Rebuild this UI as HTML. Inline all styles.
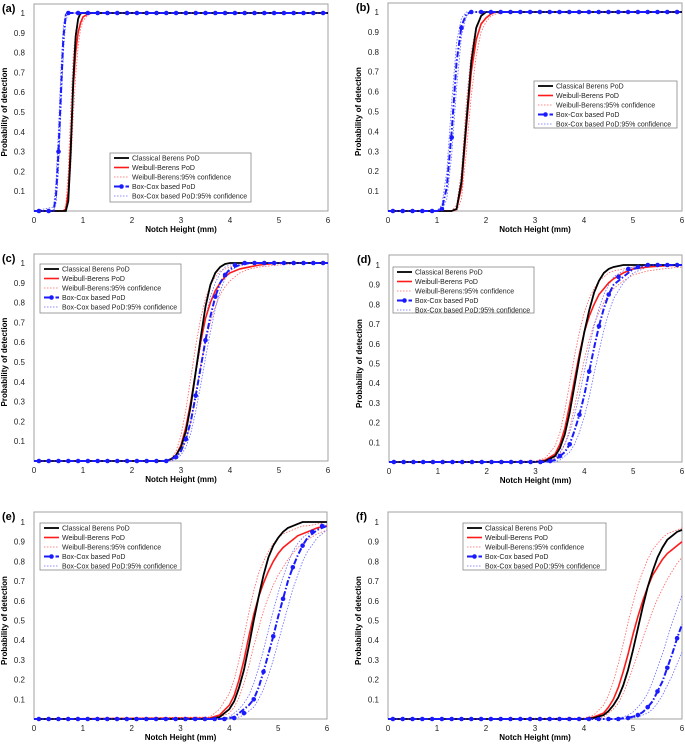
<!DOCTYPE html>
<html><head><meta charset="utf-8"><style>
html,body{margin:0;padding:0;background:#fff;}
svg{display:block;font-family:"Liberation Sans",sans-serif;}
</style></head><body>
<svg id="fig" width="685" height="745" viewBox="0 0 685 745" xmlns="http://www.w3.org/2000/svg"></svg>
<script>
// ---- data ----
const markerX = [0.1,0.3,0.5,0.7,0.9,1.1,1.3,1.5,1.7,1.9,2.1,2.3,2.5,2.7,2.9,3.1,3.3,3.5,3.7,3.9,4.1,4.3,4.5,4.7,4.9,5.1,5.3,5.5,5.7,5.9];
const xTicks = [0,1,2,3,4,5,6];
const yTicks = [0.1,0.2,0.3,0.4,0.5,0.6,0.7,0.8,0.9,1];
const yTickLabels = ["0.1","0.2","0.3","0.4","0.5","0.6","0.7","0.8","0.9","1"];
const legendLabels = ["Classical Berens PoD","Weibull-Berens PoD","Weibull-Berens:95% confidence","Box-Cox based PoD","Box-Cox based PoD:95% confidence"];

const aX = [0,0.4,0.45,0.5,0.55,0.6,0.65,0.7,0.75,0.8,0.85,0.9,0.95,1.0,1.1,1.2,1.3,6];
const aBlack = [0,0,0,0,0,0,0,0.05,0.3,0.65,0.88,0.97,1,1,1,1,1,1];
const aRed = [0,0,0,0,0,0,0.01,0.1,0.35,0.62,0.8,0.9,0.95,0.98,0.995,1,1,1];
const aRedLo = [0,0,0,0,0,0,0,0.05,0.22,0.47,0.68,0.83,0.92,0.96,0.99,1,1,1];
const aRedHi = [0,0,0,0,0,0,0.03,0.2,0.52,0.78,0.91,0.97,0.99,1,1,1,1,1];
const aBlue = [0,0,0.08,0.3,0.6,0.88,0.99,1,1,1,1,1,1,1,1,1,1,1];
const aBlueLo = [0,0,0.04,0.2,0.5,0.8,0.96,1,1,1,1,1,1,1,1,1,1,1];
const aBlueHi = [0,0.02,0.15,0.42,0.72,0.94,1,1,1,1,1,1,1,1,1,1,1,1];
const aMarkers = [0,0,0.3,1,1,1,1,1,1,1,1,1,1,1,1,1,1,1,1,1,1,1,1,1,1,1,1,1,1,1];

const bX = [0,1,1.1,1.2,1.3,1.4,1.5,1.6,1.7,1.8,1.9,2.0,2.1,2.2,2.4,2.6,6];
const bBlack = [0,0,0,0,0,0.01,0.15,0.45,0.75,0.92,0.98,1,1,1,1,1,1];
const bRed = [0,0,0,0,0,0.01,0.12,0.42,0.7,0.86,0.94,0.97,0.99,1,1,1,1];
const bRedLo = [0,0,0,0,0,0,0.06,0.3,0.58,0.78,0.9,0.95,0.98,0.99,1,1,1];
const bRedHi = [0,0,0,0,0,0.03,0.2,0.55,0.8,0.93,0.98,1,1,1,1,1,1];
const bBlue = [0,0,0.01,0.12,0.4,0.75,0.93,0.99,1,1,1,1,1,1,1,1,1];
const bBlueLo = [0,0,0,0.06,0.28,0.62,0.88,0.98,1,1,1,1,1,1,1,1,1];
const bBlueHi = [0,0,0.03,0.2,0.55,0.85,0.97,1,1,1,1,1,1,1,1,1,1];
const bMarkers = [0,0,0,0,0,0.01,0.37,0.92,1,1,1,1,1,1,1,1,1,1,1,1,1,1,1,1,1,1,1,1,1,1];

const cX = [0,2.7,2.8,2.9,3.0,3.1,3.2,3.3,3.4,3.5,3.6,3.7,3.8,3.9,4.0,4.2,4.4,4.6,5,5.5,6];
const cBlack = [0,0,0.01,0.03,0.07,0.15,0.28,0.45,0.62,0.78,0.89,0.95,0.98,0.995,1,1,1,1,1,1,1];
const cRed = [0,0,0.01,0.03,0.08,0.17,0.3,0.45,0.6,0.72,0.8,0.86,0.9,0.93,0.95,0.97,0.98,0.99,1,1,1];
const cRedHi = [0,0,0.01,0.05,0.13,0.26,0.42,0.58,0.72,0.82,0.89,0.93,0.96,0.97,0.98,0.99,1,1,1,1,1];
const cRedLo = [0,0,0,0.02,0.05,0.1,0.2,0.33,0.48,0.6,0.7,0.78,0.84,0.88,0.91,0.95,0.97,0.98,0.99,1,1];
const cBlue = [0,0,0.01,0.02,0.05,0.11,0.2,0.33,0.47,0.61,0.73,0.83,0.9,0.94,0.97,0.99,1,1,1,1,1];
const cBlueLo = [0,0,0,0.01,0.03,0.07,0.14,0.25,0.38,0.52,0.65,0.77,0.86,0.92,0.96,0.99,1,1,1,1,1];
const cBlueHi = [0,0,0.01,0.03,0.08,0.16,0.28,0.43,0.58,0.72,0.83,0.9,0.95,0.98,0.99,1,1,1,1,1,1];
const cMarkers = [0,0,0,0,0,0,0,0,0,0,0,0,0,0,0.02,0.11,0.33,0.61,0.83,0.94,0.99,1,1,1,1,1,1,1,1,1];

const dX = [0,3.0,3.2,3.4,3.5,3.6,3.7,3.8,3.9,4.0,4.1,4.2,4.3,4.4,4.5,4.6,4.8,5.0,5.3,5.6,6];
const dBlack = [0,0,0.005,0.03,0.07,0.14,0.25,0.39,0.53,0.66,0.77,0.86,0.92,0.96,0.98,0.99,1,1,1,1,1];
const dRed = [0,0,0.01,0.04,0.09,0.17,0.29,0.42,0.55,0.66,0.74,0.8,0.85,0.88,0.91,0.93,0.96,0.98,0.99,0.995,1];
const dRedHi = [0,0.005,0.02,0.08,0.15,0.26,0.4,0.54,0.66,0.76,0.83,0.88,0.92,0.94,0.96,0.97,0.98,0.99,1,1,1];
const dRedLo = [0,0,0,0.02,0.04,0.09,0.17,0.28,0.4,0.52,0.62,0.7,0.76,0.81,0.85,0.88,0.92,0.95,0.97,0.98,0.99];
const dBlue = [0,0,0,0.01,0.03,0.05,0.09,0.16,0.24,0.34,0.46,0.58,0.69,0.78,0.85,0.9,0.94,0.98,1,1,1];
const dBlueHi = [0,0,0.01,0.02,0.05,0.09,0.15,0.24,0.34,0.46,0.58,0.69,0.78,0.85,0.9,0.94,0.97,0.99,1,1,1];
const dBlueLo = [0,0,0,0,0.01,0.03,0.05,0.09,0.15,0.23,0.33,0.45,0.56,0.67,0.76,0.83,0.91,0.96,0.99,1,1];
const dMarkers = [0,0,0,0,0,0,0,0,0,0,0,0,0,0,0,0,0.005,0.03,0.09,0.24,0.46,0.69,0.85,0.94,0.98,0.99,1,1,1,1];

const eX = [0,3.6,3.8,4.0,4.1,4.2,4.3,4.4,4.5,4.6,4.7,4.8,4.9,5.0,5.1,5.2,5.3,5.4,5.5,5.6,5.8,6];
const eBlack = [0,0,0.01,0.05,0.09,0.16,0.25,0.37,0.5,0.62,0.73,0.82,0.88,0.92,0.95,0.97,0.98,0.99,1,1,1,1];
const eRed = [0,0.005,0.02,0.07,0.12,0.2,0.3,0.42,0.53,0.62,0.69,0.75,0.8,0.84,0.87,0.89,0.91,0.93,0.94,0.95,0.97,0.98];
const eRedHi = [0,0.01,0.05,0.13,0.2,0.3,0.42,0.54,0.65,0.74,0.8,0.85,0.89,0.92,0.94,0.95,0.96,0.97,0.98,0.98,0.99,1];
const eRedLo = [0,0,0.01,0.03,0.06,0.11,0.18,0.27,0.37,0.46,0.55,0.62,0.68,0.73,0.77,0.81,0.84,0.87,0.89,0.91,0.94,0.96];
const eBlue = [0,0,0,0.005,0.01,0.03,0.05,0.07,0.1,0.16,0.24,0.33,0.42,0.52,0.61,0.7,0.77,0.83,0.88,0.92,0.96,0.98];
const eBlueHi = [0,0,0,0.01,0.03,0.05,0.08,0.12,0.18,0.26,0.35,0.45,0.55,0.64,0.72,0.79,0.85,0.89,0.92,0.94,0.97,0.99];
const eBlueLo = [0,0,0,0,0.005,0.01,0.02,0.04,0.06,0.1,0.15,0.22,0.3,0.39,0.48,0.57,0.66,0.73,0.8,0.85,0.92,0.96];
const eMarkers = [0,0,0,0,0,0,0,0,0,0,0,0,0,0,0,0,0,0,0,0,0.005,0.03,0.1,0.24,0.42,0.61,0.77,0.88,0.95,0.98];

const fX = [0,4.0,4.2,4.4,4.5,4.6,4.7,4.8,4.9,5.0,5.1,5.2,5.3,5.4,5.5,5.6,5.7,5.8,5.9,6];
const fBlack = [0,0,0.005,0.02,0.04,0.07,0.11,0.17,0.25,0.35,0.46,0.57,0.67,0.75,0.82,0.87,0.91,0.93,0.95,0.96];
const fRed = [0,0,0.01,0.03,0.06,0.1,0.16,0.24,0.33,0.43,0.52,0.6,0.67,0.73,0.77,0.81,0.84,0.86,0.88,0.9];
const fRedHi = [0,0.005,0.02,0.07,0.12,0.19,0.28,0.38,0.49,0.59,0.68,0.75,0.81,0.86,0.89,0.92,0.94,0.95,0.96,0.97];
const fRedLo = [0,0,0,0.01,0.03,0.05,0.08,0.13,0.19,0.26,0.33,0.41,0.48,0.55,0.61,0.66,0.71,0.75,0.79,0.82];
const fBlue = [0,0,0,0,0,0,0,0.003,0.006,0.012,0.02,0.035,0.06,0.09,0.14,0.19,0.26,0.33,0.41,0.48];
const fBlueHi = [0,0,0,0,0,0,0.005,0.01,0.02,0.035,0.06,0.09,0.13,0.19,0.26,0.33,0.41,0.49,0.56,0.63];
const fBlueLo = [0,0,0,0,0,0,0,0,0.003,0.006,0.01,0.02,0.03,0.05,0.08,0.12,0.17,0.22,0.28,0.34];
const fMarkers = [0,0,0,0,0,0,0,0,0,0,0,0,0,0,0,0,0,0,0,0,0,0,0,0,0.005,0.02,0.06,0.14,0.26,0.41];

// ---- layout ----
const panels = [
 {id:"a",L:34,R:328,Y0:211,Y1:13,T:4,x:aX,k:aBlack,r:aRed,rl:aRedLo,rh:aRedHi,b:aBlue,bl:aBlueLo,bh:aBlueHi,m:aMarkers,lg:[110,153,141,49]},
 {id:"b",L:388,R:682,Y0:211,Y1:12,T:3,x:bX,k:bBlack,r:bRed,rl:bRedLo,rh:bRedHi,b:bBlue,bl:bBlueLo,bh:bBlueHi,m:bMarkers,lg:[534,81,143,47]},
 {id:"c",L:34,R:328,Y0:461,Y1:263,T:254,x:cX,k:cBlack,r:cRed,rl:cRedLo,rh:cRedHi,b:cBlue,bl:cBlueLo,bh:cBlueHi,m:cMarkers,lg:[40,264,141,49]},
 {id:"d",L:389,R:682,Y0:462,Y1:265,T:255,x:dX,k:dBlack,r:dRed,rl:dRedLo,rh:dRedHi,b:dBlue,bl:dBlueLo,bh:dBlueHi,m:dMarkers,lg:[393,267,141,46]},
 {id:"e",L:34,R:327,Y0:719,Y1:522,T:512,x:eX,k:eBlack,r:eRed,rl:eRedLo,rh:eRedHi,b:eBlue,bl:eBlueLo,bh:eBlueHi,m:eMarkers,lg:[40,523,141,47]},
 {id:"f",L:388,R:682,Y0:719,Y1:522,T:512,x:fX,k:fBlack,r:fRed,rl:fRedLo,rh:fRedHi,b:fBlue,bl:fBlueLo,bh:fBlueHi,m:fMarkers,lg:[463,523,143,47]}
];
const NS="http://www.w3.org/2000/svg";
const svg=document.getElementById("fig");
function el(tag,attrs,parent){const e=document.createElementNS(NS,tag);for(const k in attrs)e.setAttribute(k,attrs[k]);(parent||svg).appendChild(e);return e;}
const RED="#ff1a1a", BLUE="#1a1aff";
const styles = {
 k:{stroke:"#000","stroke-width":1.8},
 r:{stroke:RED,"stroke-width":1.6},
 rl:{stroke:"#ff6060","stroke-width":0.8,"stroke-dasharray":"1.5,1.5"},
 rh:{stroke:"#ff6060","stroke-width":0.8,"stroke-dasharray":"1.5,1.5"},
 b:{stroke:BLUE,"stroke-width":2,"stroke-dasharray":"6,2,1.5,2"},
 bl:{stroke:"#6a6aff","stroke-width":0.8,"stroke-dasharray":"1.5,1.5"},
 bh:{stroke:"#6a6aff","stroke-width":0.8,"stroke-dasharray":"1.5,1.5"}
};
const seriesNames={k:"classical-berens-line",r:"weibull-berens-line",rl:"weibull-lower-bound",rh:"weibull-upper-bound",b:"boxcox-line",bl:"boxcox-lower-bound",bh:"boxcox-upper-bound"};

panels.forEach(p=>{
  const g=el("g",{});
  
  
  const sx=v=>p.L+(p.R-p.L)*v/6;
  const sy=v=>p.Y0-(p.Y0-p.Y1)*v;
  const frame=el("rect",{x:p.L,y:p.T,width:p.R-p.L,height:p.Y0-p.T,fill:"none",stroke:"#a0a0a0","stroke-width":1},g);
  
  
  const lab=el("text",{x:p.L-32,y:p.T+8,"font-size":11,"font-weight":"bold"},g);
  lab.textContent="("+p.id+")";
  
  
  xTicks.forEach(t=>{
    const tx=el("text",{x:sx(t),y:p.Y0+12,"font-size":8,"text-anchor":"middle",fill:"#222"},g);
    tx.textContent=String(t);
    
    
  });
  yTicks.forEach((t,i)=>{
    const ty=el("text",{x:p.L-9,y:sy(t)+3,"font-size":8,"text-anchor":"end",fill:"#222"},g);
    ty.textContent=yTickLabels[i];
    
    
  });
  const xt=el("text",{x:(p.L+p.R)/2,y:p.Y0+21,"font-size":8,"font-weight":"bold","text-anchor":"middle"},g);
  xt.textContent="Notch Height (mm)";
  
  
  const yc=(p.Y0+p.Y1)/2, yx=p.L-27;
  const yt=el("text",{x:yx,y:yc,"font-size":8,"font-weight":"bold","text-anchor":"middle",transform:"rotate(-90 "+yx+" "+yc+")"},g);
  yt.textContent="Probability of detection";
  
  
  ["rl","rh","bl","bh","r","k","b"].forEach(key=>{
    const d=p.x.map((xv,i)=>(i?"L":"M")+sx(xv).toFixed(2)+" "+sy(p[key][i]).toFixed(2)).join(" ");
    const attrs=Object.assign({d:d,fill:"none"},styles[key]);
    const path=el("path",attrs,g);
    
    
  });
  markerX.forEach((mx,i)=>{
    const c=el("circle",{cx:sx(mx),cy:sy(p.m[i]),r:2.3,fill:BLUE},g);
    
    
  });
  // legend
  const [lx,ly,lw,lh]=p.lg;
  const lgG=el("g",{},g);
  
  
  el("rect",{x:lx,y:ly,width:lw,height:lh,fill:"#fff",stroke:"#888","stroke-width":0.8},lgG);
  const keys=["k","r","rl","b","bl"];
  keys.forEach((key,i)=>{
    const yy=ly+5+i*9.5;
    const ln=el("line",Object.assign({x1:lx+4,x2:lx+19,y1:yy,y2:yy},styles[key]),lgG);
    
    
    if(key==="b"){
      const mc=el("circle",{cx:lx+11.5,cy:yy,r:2.3,fill:BLUE},lgG);
      
      
    }
    const t=el("text",{x:lx+22,y:yy+2.6,"font-size":7,fill:"#222"},lgG);
    t.textContent=legendLabels[i];
    
    
  });
});
</script>
</body></html>
